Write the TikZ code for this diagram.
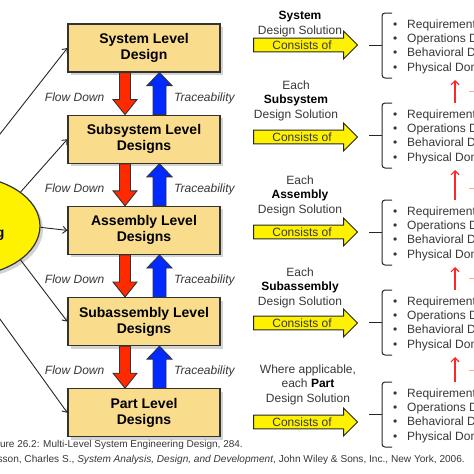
\documentclass[tikz,border=0pt]{standalone}
\usepackage{fontspec}
\setmainfont{Liberation Sans}
\usepackage{xcolor}
\usetikzlibrary{positioning, calc, shadows, shapes.geometric, shapes.arrows, arrows.meta}

\definecolor{boxfill}{RGB}{250,221,140}
\definecolor{downred}{RGB}{255,42,0}
\definecolor{upblue}{RGB}{0,42,255}
\definecolor{textgray}{RGB}{55,55,55}

\begin{document}
\begin{tikzpicture}[x=1pt, y=-1pt,
    level/.style={draw=black!80, line width=1.2pt, fill=boxfill, minimum width=152pt, minimum height=48pt,
        align=center, font=\fontsize{14}{16}\selectfont\bfseries,
        drop shadow={opacity=0.35, shadow xshift=3pt, shadow yshift=-3pt}},
    link/.style={draw=black!85, line width=0.9pt, -{Straight Barb[length=4pt, width=7pt]}},
    flowlabel/.style={font=\fontsize{12}{14}\selectfont\itshape, text=textgray, inner sep=0pt},
    head/.style={align=center, font=\fontsize{12}{14.5}\selectfont, text=textgray, inner sep=0pt, anchor=south},
    consist/.style={single arrow, draw=black!85, line width=1pt, fill=yellow, anchor=tail,
        minimum height=104pt, single arrow head extend=7pt, inner sep=2pt,
        font=\fontsize{12}{14}\selectfont, text=textgray},
    brack/.style={draw=black!85, line width=1pt, rounded corners=3pt},
    bulletitem/.style={anchor=base west, inner sep=0pt, font=\fontsize{12}{14}\selectfont, text=textgray},
    traceup/.style={draw=red!85, line width=1.2pt, -{Straight Barb[length=4pt, width=8pt]}, shorten <=0.5pt, shorten >=2pt}]
    \useasboundingbox (0,0) rectangle (474,474);
    \clip (0,0) rectangle (474,474);

    % Goal ellipse on the left
    \node[ellipse, draw=black!80, line width=1.2pt, fill=yellow, minimum width=152pt, minimum height=100pt,
        align=center, font=\fontsize{14}{16}\selectfont\bfseries,
        drop shadow={opacity=0.35, shadow xshift=3pt, shadow yshift=-3pt}] (goal) at (-36,226) {System\\Engineering};

    % Design levels
    \node[level] (sys) at (144,48) {System Level\\Design};
    \node[level, below=42pt of sys] (sub) {Subsystem Level\\Designs};
    \node[level, below=42pt of sub] (asm) {Assembly Level\\Designs};
    \node[level, below=42pt of asm] (sba) {Subassembly Level\\Designs};
    \node[level, below=42pt of sba] (prt) {Part Level\\Designs};

    % Links from the ellipse
    \foreach \lvl/\ang in {sys/86, sub/31, asm/-1, sba/-31, prt/-84}
        \draw[link] (goal.\ang) -- (\lvl.west);

    % Flow down and traceability between levels
    \foreach \a/\b in {sys/sub, sub/asm, asm/sba, sba/prt} {
        \draw[draw=black!80, line width=0.9pt, fill=downred]
            ([xshift=-24.5pt]\a.south) -- ([xshift=-24.5pt, yshift=15pt]\b.north)
            -- ([xshift=-31pt, yshift=15pt]\b.north) -- ([xshift=-19pt]\b.north)
            -- ([xshift=-7pt, yshift=15pt]\b.north) -- ([xshift=-13.5pt, yshift=15pt]\b.north)
            -- ([xshift=-13.5pt]\a.south) -- cycle;
        \draw[draw=black!80, line width=0.9pt, fill=upblue]
            ([xshift=9pt]\b.north) -- ([xshift=9pt, yshift=-13pt]\a.south)
            -- ([xshift=3pt, yshift=-13pt]\a.south) -- ([xshift=15.5pt]\a.south)
            -- ([xshift=28pt, yshift=-13pt]\a.south) -- ([xshift=22pt, yshift=-13pt]\a.south)
            -- ([xshift=22pt]\b.north) -- cycle;
        \node[flowlabel, anchor=base east] at ($(\a.south)!0.5!(\b.north)+(-39.5,7.5)$) {Flow Down};
        \node[flowlabel, anchor=base west] at ($(\a.south)!0.5!(\b.north)+(30,7.5)$) {Traceability};
    }

    % Design solution headers
    \node[head] (h1) at (300,37) {\textbf{\color{black}System}\\Design Solution};
    \node[head] (h2) at (296,121) {Each\\\textbf{\color{black}Subsystem}\\Design Solution};
    \node[head] (h3) at (300,216) {Each\\\textbf{\color{black}Assembly}\\Design Solution};
    \node[head] (h4) at (300,308) {Each\\\textbf{\color{black}Subassembly}\\Design Solution};
    \node[head] (h5) at (308,405) {Where applicable,\\each \textbf{\color{black}Part}\\Design Solution};

    % Consists of arrows
    \foreach \y [count=\i] in {45,137,232,323,422}
        \node[consist] (c\i) at (253,\y) {Consists of};

    % Domain brackets
    \foreach \t [count=\i] in {13,103,200,290,382} {
        \draw[brack] (392,\t) -- (382,\t) -- (382,\t+65) -- (392,\t+65);
        \draw[brack] (382,\t+32.5) -- (369,\t+32.5);
        \coordinate (top\i) at (455,\t);
        \coordinate (bot\i) at (455,\t+65);
        \foreach \item [count=\j from 0] in {Requirements Domain Solution, Operations Domain Solution,
                Behavioral Domain Solution, Physical Domain Solution}
            \node[bulletitem] at (393,\t+15.3+14.3*\j) {\makebox[14pt][l]{\textbullet}\item};
    }
    \foreach \i/\j in {2/1, 3/2, 4/3, 5/4} {
        \draw[traceup] (top\i) -- (bot\j);
        \draw[red!35, line width=0.8pt] ($(top\i)+(14,-12)$) -- ($(top\i)+(20,-12)$);
    }

    % Source caption
    \node[anchor=base east, inner sep=0pt, font=\fontsize{10}{12}\selectfont, text=textgray] (cap1) at (243,447)
        {Figure 26.2: Multi-Level System Engineering Design, 284.};
    \node[anchor=base east, inner sep=0pt, font=\fontsize{10.1}{12}\selectfont, text=textgray] (cap2) at (465,462)
        {Wasson, Charles S., \textit{System Analysis, Design, and Development}, John Wiley \& Sons, Inc., New York, 2006.};
\end{tikzpicture}
\end{document}
